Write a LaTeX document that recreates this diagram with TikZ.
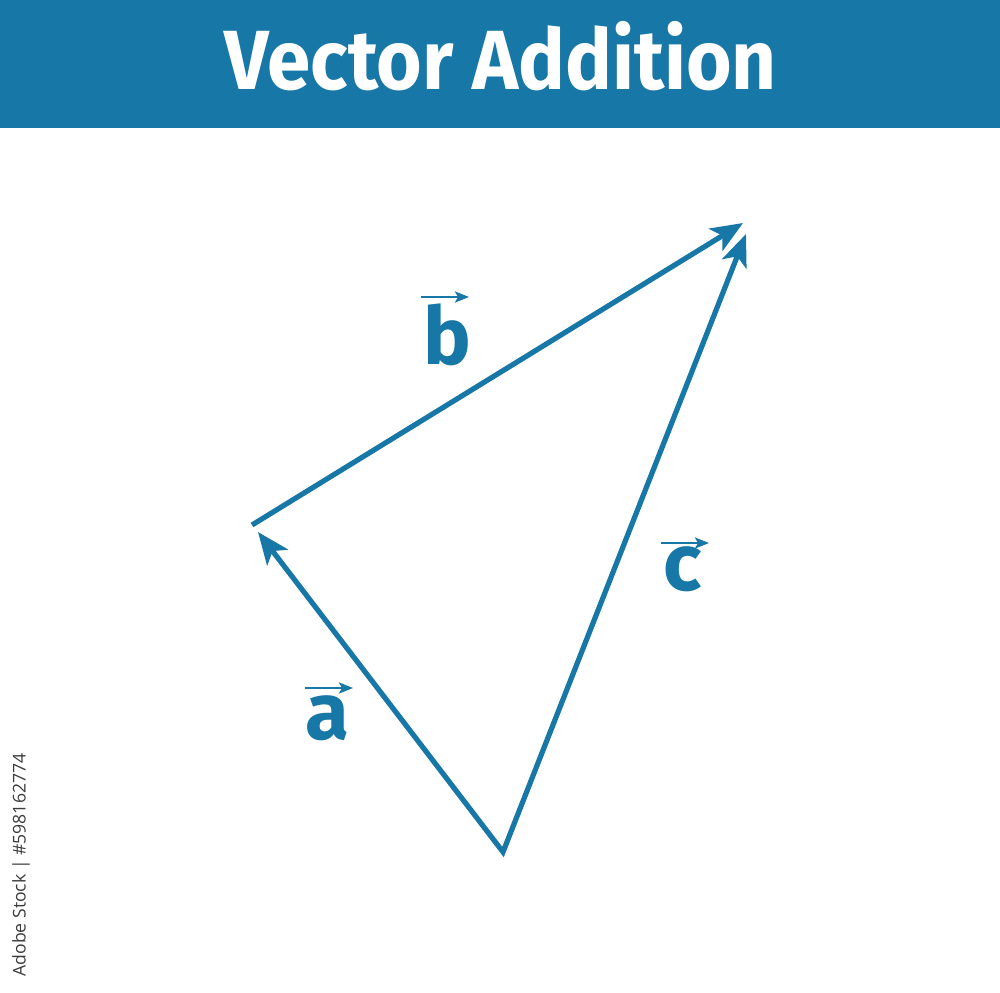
\documentclass[tikz,border=0pt]{standalone}
\usepackage{fontspec}
\setmainfont{Fira Sans}
\newfontfamily\wmfont{Open Sans}
\usetikzlibrary{arrows.meta}
\definecolor{vblue}{RGB}{23,119,166}
\definecolor{wmgray}{RGB}{60,60,60}
\tikzset{
  vec/.style={draw=vblue, line width=2.6pt, line join=miter,
    -{Stealth[length=16pt, width=13pt, inset=4pt]}},
  overarrow/.style={draw=vblue, line width=1.3pt,
    -{Stealth[length=7pt, width=5.5pt, inset=1.5pt]}},
  lbl/.style={text=vblue, font=\fontsize{40}{40}\selectfont\bfseries, inner sep=0pt, anchor=base},
}
\begin{document}
\begin{tikzpicture}[x=0.5pt, y=-0.5pt]
\useasboundingbox (0,0) rectangle (1000,992);
% header
\fill[vblue] (0,0) rectangle (1000,128);
\node[text=white, font=\fontsize{42}{42}\selectfont\bfseries, inner sep=0pt, anchor=base] (title) at (501,89)
  {\scalebox{0.93}[1]{Vector Addition}};
% vertices
\coordinate (O) at (503,852);
\coordinate (Ptip) at (258,532);
\coordinate (Pstart) at (252,525);
\coordinate (Qb) at (743,223);
\coordinate (Qc) at (746,234);
% vectors
\draw[vec] (Pstart) -- (Qb);
\draw[vec, {Stealth[length=16pt, width=13pt, inset=4pt]}-{Stealth[length=16pt, width=13pt, inset=4pt]}] (Ptip) -- (O) -- (Qc);
% labels
\node[lbl] (lb) at (447,364) {b};
\coordinate (lbs) at (421,297); \coordinate (lbe) at (469,297);
\draw[overarrow] (lbs) -- (lbe);
\node[lbl] (la) at (327,739) {a};
\coordinate (las) at (305,688); \coordinate (lae) at (353,688);
\draw[overarrow] (las) -- (lae);
\node[lbl] (lc) at (683,590) {c};
\coordinate (lcs) at (661,543); \coordinate (lce) at (709,543);
\draw[overarrow] (lcs) -- (lce);
% watermark
\node[text=wmgray, font=\wmfont\fontsize{8.8}{8.8}\selectfont, rotate=90, inner sep=0pt] (wm) at (21,865) {Adobe Stock | \#598162774};
\end{tikzpicture}
\end{document}
